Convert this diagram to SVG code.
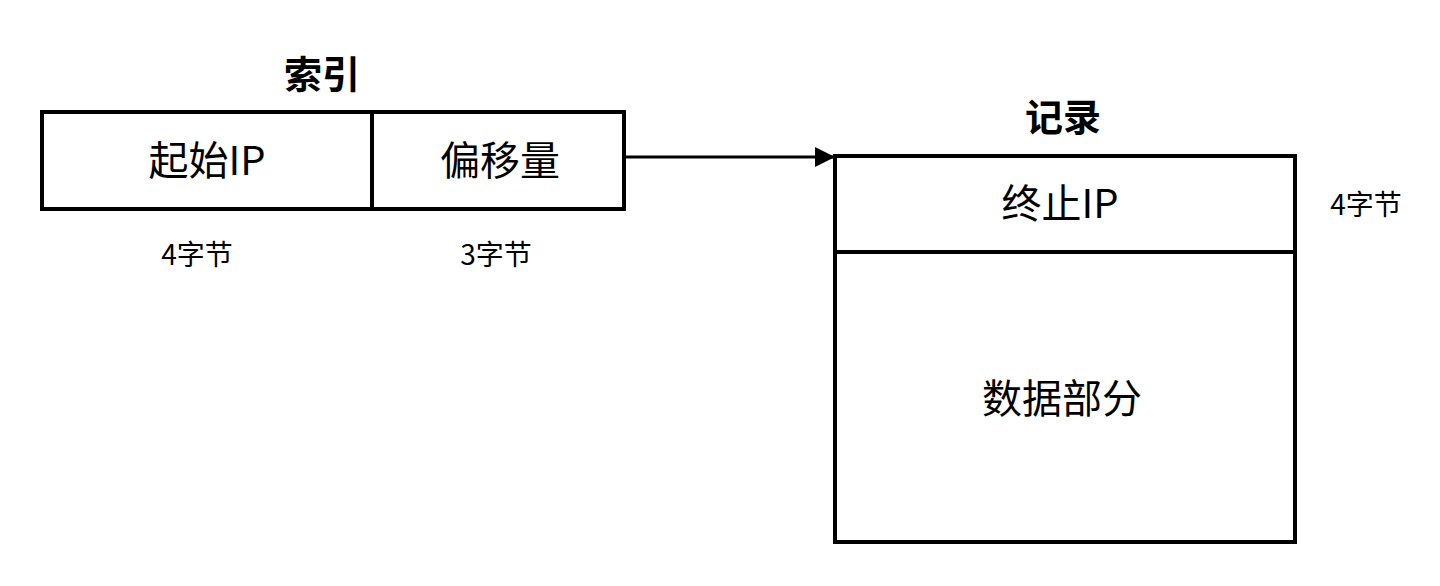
<svg xmlns="http://www.w3.org/2000/svg" width="1440" height="586" viewBox="0 0 1440 586">
<style>
.b{fill:#fff;stroke:#000;stroke-width:4}
.t{font-family:"Noto Sans CJK SC","Noto Sans",sans-serif;fill:#000;text-anchor:middle}
.l{font-size:40px}
.s{font-size:28px}
.h{font-size:38px;font-weight:bold}
</style>
<defs><marker id="a" markerWidth="10" markerHeight="10" refX="9" refY="5" orient="auto" markerUnits="userSpaceOnUse"><path d="M0,0L10,5L0,10Z" fill="#000"/></marker></defs>
<rect width="1440" height="586" fill="#fff"/>
<text class="t h" x="322" y="88">索引</text>
<text class="t h" x="1063" y="131">记录</text>
<g id="start"><rect class="b" x="42" y="112" width="330" height="97"/><text class="t l" x="207" y="175">起始IP</text></g>
<g id="offset"><rect class="b" x="372" y="112" width="252" height="97"/><text class="t l" x="500" y="175">偏移量</text></g>
<g id="end"><rect class="b" x="835" y="156" width="460" height="96"/><text class="t l" x="1060" y="218">终止IP</text></g>
<g id="data"><rect class="b" x="835" y="252" width="460" height="290"/><text class="t l" x="1062" y="413">数据部分</text></g>
<text class="t s" x="197" y="265">4字节</text>
<text class="t s" x="496" y="265">3字节</text>
<text class="t s" x="1366" y="215">4字节</text>
<g id="connectors"><path d="M624,157H833" stroke="#000" stroke-width="3" fill="none"/><path d="M815,147L835,157L815,167Z" fill="#000"/></g>
</svg>
